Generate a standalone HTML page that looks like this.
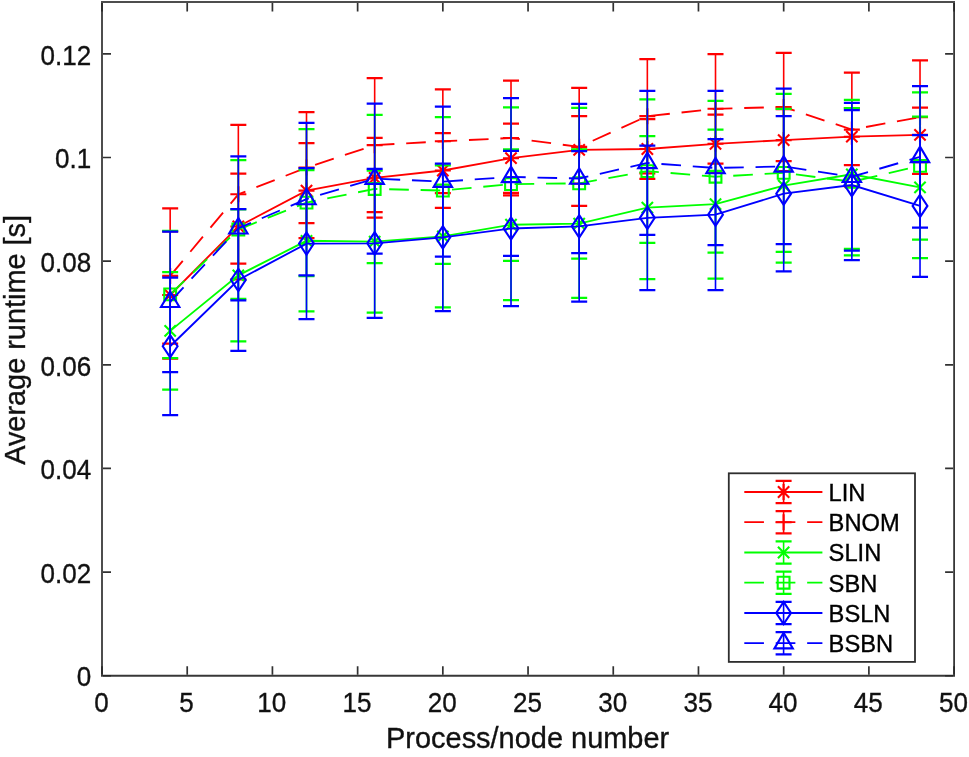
<!DOCTYPE html>
<html lang="en">
<head>
<meta charset="utf-8">
<title>Average runtime vs process/node number</title>
<style>
html,body{margin:0;padding:0;background:#fff;}
body{width:969px;height:757px;overflow:hidden;}
svg{display:block;}
text{font-family:"Liberation Sans",Arial,Helvetica,sans-serif;fill:#111;stroke:#111;stroke-width:0.35px;}
.tk{font-size:27.85px;}
.lb{font-size:28.95px;}
.lg{font-size:23.7px;fill:#000;stroke:#000;}
</style>
</head>
<body>
<svg width="969" height="757" viewBox="0 0 969 757">
<rect x="0" y="0" width="969" height="757" fill="#ffffff"/>
<g id="series">
<path d="M170.17 295L238.34 226.5L306.5 190.6L374.67 177.8L442.84 170.5L511.01 158.2L579.18 149.8L647.34 149L715.51 143.8L783.68 140.1L851.85 136.7L920.02 134.8" fill="none" stroke="#ff0000" stroke-width="1.85"/>
<path d="M170.17 231.3V358.7M238.34 173.6V279.4M306.5 143V238.2M374.67 137.9V217.7M442.84 133.1V207.9M511.01 123.5V192.9M579.18 116.05V183.55M647.34 119.2V178.8M715.51 114.65V172.95M783.68 109.1V171.1M851.85 108.2V165.2M920.02 107.6V162" fill="none" stroke="#ff0000" stroke-width="1.6"/>
<path d="M162.17 231.3H178.17M162.17 358.7H178.17M230.34 173.6H246.34M230.34 279.4H246.34M298.5 143H314.5M298.5 238.2H314.5M366.67 137.9H382.67M366.67 217.7H382.67M434.84 133.1H450.84M434.84 207.9H450.84M503.01 123.5H519.01M503.01 192.9H519.01M571.18 116.05H587.18M571.18 183.55H587.18M639.34 119.2H655.34M639.34 178.8H655.34M707.51 114.65H723.51M707.51 172.95H723.51M775.68 109.1H791.68M775.68 171.1H791.68M843.85 108.2H859.85M843.85 165.2H859.85M912.02 107.6H928.02M912.02 162H928.02" fill="none" stroke="#ff0000" stroke-width="2.25"/>
<path d="M162.17 295H178.17M170.17 287V303M164.52 289.35L175.82 300.65M164.52 300.65L175.82 289.35M230.34 226.5H246.34M238.34 218.5V234.5M232.69 220.85L243.99 232.15M232.69 232.15L243.99 220.85M298.5 190.6H314.5M306.5 182.6V198.6M300.85 184.95L312.15 196.25M300.85 196.25L312.15 184.95M366.67 177.8H382.67M374.67 169.8V185.8M369.02 172.15L380.32 183.45M369.02 183.45L380.32 172.15M434.84 170.5H450.84M442.84 162.5V178.5M437.19 164.85L448.49 176.15M437.19 176.15L448.49 164.85M503.01 158.2H519.01M511.01 150.2V166.2M505.36 152.55L516.66 163.85M505.36 163.85L516.66 152.55M571.18 149.8H587.18M579.18 141.8V157.8M573.53 144.15L584.83 155.45M573.53 155.45L584.83 144.15M639.34 149H655.34M647.34 141V157M641.69 143.35L652.99 154.65M641.69 154.65L652.99 143.35M707.51 143.8H723.51M715.51 135.8V151.8M709.86 138.15L721.16 149.45M709.86 149.45L721.16 138.15M775.68 140.1H791.68M783.68 132.1V148.1M778.03 134.45L789.33 145.75M778.03 145.75L789.33 134.45M843.85 136.7H859.85M851.85 128.7V144.7M846.2 131.05L857.5 142.35M846.2 142.35L857.5 131.05M912.02 134.8H928.02M920.02 126.8V142.8M914.37 129.15L925.67 140.45M914.37 140.45L925.67 129.15" fill="none" stroke="#ff0000" stroke-width="2.1" stroke-linejoin="miter" stroke-miterlimit="10"/>
<path d="M170.17 275.9L238.34 194.3L306.5 167.6L374.67 145.15L442.84 141.25L511.01 138L579.18 146.85L647.34 116.15L715.51 108.8L783.68 107L851.85 129.6L920.02 117.1" fill="none" stroke="#ff0000" stroke-width="1.85" stroke-dasharray="19.64 11.79"/>
<path d="M170.17 208.3V343.5M238.34 124.95V263.65M306.5 112V223.2M374.67 78.2V212.1M442.84 89.3V193.2M511.01 80.6V195.4M579.18 87.9V205.8M647.34 59V173.3M715.51 54V163.6M783.68 52.8V161.2M851.85 72.5V186.7M920.02 60.45V173.75" fill="none" stroke="#ff0000" stroke-width="1.6"/>
<path d="M162.17 208.3H178.17M162.17 343.5H178.17M230.34 124.95H246.34M230.34 263.65H246.34M298.5 112H314.5M298.5 223.2H314.5M366.67 78.2H382.67M366.67 212.1H382.67M434.84 89.3H450.84M434.84 193.2H450.84M503.01 80.6H519.01M503.01 195.4H519.01M571.18 87.9H587.18M571.18 205.8H587.18M639.34 59H655.34M639.34 173.3H655.34M707.51 54H723.51M707.51 163.6H723.51M775.68 52.8H791.68M775.68 161.2H791.68M843.85 72.5H859.85M843.85 186.7H859.85M912.02 60.45H928.02M912.02 173.75H928.02" fill="none" stroke="#ff0000" stroke-width="2.25"/>
<path d="M162.17 275.9H178.17M170.17 267.9V283.9M230.34 194.3H246.34M238.34 186.3V202.3M298.5 167.6H314.5M306.5 159.6V175.6M366.67 145.15H382.67M374.67 137.15V153.15M434.84 141.25H450.84M442.84 133.25V149.25M503.01 138H519.01M511.01 130V146M571.18 146.85H587.18M579.18 138.85V154.85M639.34 116.15H655.34M647.34 108.15V124.15M707.51 108.8H723.51M715.51 100.8V116.8M775.68 107H791.68M783.68 99V115M843.85 129.6H859.85M851.85 121.6V137.6M912.02 117.1H928.02M920.02 109.1V125.1" fill="none" stroke="#ff0000" stroke-width="2.1" stroke-linejoin="miter" stroke-miterlimit="10"/>
<path d="M170.17 330.85L238.34 275.3L306.5 240.8L374.67 241.65L442.84 236.3L511.01 224.75L579.18 223.6L647.34 207.65L715.51 204.1L783.68 185.7L851.85 174.3L920.02 187.4" fill="none" stroke="#00ff00" stroke-width="1.85"/>
<path d="M170.17 272.2V389.5M238.34 209.3V341.3M306.5 170.2V311.4M374.67 170.6V312.7M442.84 165.3V307.3M511.01 149.3V300.2M579.18 149.4V297.8M647.34 136.2V279.1M715.51 129.6V278.6M783.68 108.9V262.5M851.85 99.8V248.8M920.02 116.7V258.1" fill="none" stroke="#00ff00" stroke-width="1.6"/>
<path d="M162.17 272.2H178.17M162.17 389.5H178.17M230.34 209.3H246.34M230.34 341.3H246.34M298.5 170.2H314.5M298.5 311.4H314.5M366.67 170.6H382.67M366.67 312.7H382.67M434.84 165.3H450.84M434.84 307.3H450.84M503.01 149.3H519.01M503.01 300.2H519.01M571.18 149.4H587.18M571.18 297.8H587.18M639.34 136.2H655.34M639.34 279.1H655.34M707.51 129.6H723.51M707.51 278.6H723.51M775.68 108.9H791.68M775.68 262.5H791.68M843.85 99.8H859.85M843.85 248.8H859.85M912.02 116.7H928.02M912.02 258.1H928.02" fill="none" stroke="#00ff00" stroke-width="2.25"/>
<path d="M164.52 325.2L175.82 336.5M164.52 336.5L175.82 325.2M232.69 269.65L243.99 280.95M232.69 280.95L243.99 269.65M300.85 235.15L312.15 246.45M300.85 246.45L312.15 235.15M369.02 236L380.32 247.3M369.02 247.3L380.32 236M437.19 230.65L448.49 241.95M437.19 241.95L448.49 230.65M505.36 219.1L516.66 230.4M505.36 230.4L516.66 219.1M573.53 217.95L584.83 229.25M573.53 229.25L584.83 217.95M641.69 202L652.99 213.3M641.69 213.3L652.99 202M709.86 198.45L721.16 209.75M709.86 209.75L721.16 198.45M778.03 180.05L789.33 191.35M778.03 191.35L789.33 180.05M846.2 168.65L857.5 179.95M846.2 179.95L857.5 168.65M914.37 181.75L925.67 193.05M914.37 193.05L925.67 181.75" fill="none" stroke="#00ff00" stroke-width="2.1" stroke-linejoin="miter" stroke-miterlimit="10"/>
<path d="M170.17 294.4L238.34 229.5L306.5 202.6L374.67 188.95L442.84 190.55L511.01 184.1L579.18 183.3L647.34 171.1L715.51 176.75L783.68 172.85L851.85 181.7L920.02 165.9" fill="none" stroke="#00ff00" stroke-width="1.85" stroke-dasharray="19.64 11.79"/>
<path d="M170.17 230.8V358M238.34 160.05V298.95M306.5 129V276.2M374.67 114.9V263M442.84 117.2V263.9M511.01 107.4V260.8M579.18 107.9V258.7M647.34 99.3V242.9M715.51 100.9V252.6M783.68 93.9V251.8M851.85 108.15V255.25M920.02 92.3V239.5" fill="none" stroke="#00ff00" stroke-width="1.6"/>
<path d="M162.17 230.8H178.17M162.17 358H178.17M230.34 160.05H246.34M230.34 298.95H246.34M298.5 129H314.5M298.5 276.2H314.5M366.67 114.9H382.67M366.67 263H382.67M434.84 117.2H450.84M434.84 263.9H450.84M503.01 107.4H519.01M503.01 260.8H519.01M571.18 107.9H587.18M571.18 258.7H587.18M639.34 99.3H655.34M639.34 242.9H655.34M707.51 100.9H723.51M707.51 252.6H723.51M775.68 93.9H791.68M775.68 251.8H791.68M843.85 108.15H859.85M843.85 255.25H859.85M912.02 92.3H928.02M912.02 239.5H928.02" fill="none" stroke="#00ff00" stroke-width="2.25"/>
<path d="M164.27 288.5H176.07V300.3H164.27ZM232.44 223.6H244.24V235.4H232.44ZM300.6 196.7H312.4V208.5H300.6ZM368.77 183.05H380.57V194.85H368.77ZM436.94 184.65H448.74V196.45H436.94ZM505.11 178.2H516.91V190H505.11ZM573.28 177.4H585.08V189.2H573.28ZM641.44 165.2H653.24V177H641.44ZM709.61 170.85H721.41V182.65H709.61ZM777.78 166.95H789.58V178.75H777.78ZM845.95 175.8H857.75V187.6H845.95ZM914.12 160H925.92V171.8H914.12Z" fill="none" stroke="#00ff00" stroke-width="2.1" stroke-linejoin="miter" stroke-miterlimit="10"/>
<path d="M170.17 346.25L238.34 280L306.5 243.6L374.67 243.35L442.84 237.35L511.01 228.5L579.18 226.3L647.34 217.8L715.51 214.7L783.68 193.7L851.85 185.05L920.02 205.95" fill="none" stroke="#0000ff" stroke-width="1.85"/>
<path d="M170.17 277.5V415M238.34 209.2V350.8M306.5 168V319.2M374.67 168.85V317.85M442.84 163.55V311.15M511.01 150.9V306.1M579.18 151.1V301.5M647.34 145.5V290.1M715.51 139.2V290.2M783.68 116.1V271.3M851.85 110.1V260M920.02 135V276.9" fill="none" stroke="#0000ff" stroke-width="1.6"/>
<path d="M162.17 277.5H178.17M162.17 415H178.17M230.34 209.2H246.34M230.34 350.8H246.34M298.5 168H314.5M298.5 319.2H314.5M366.67 168.85H382.67M366.67 317.85H382.67M434.84 163.55H450.84M434.84 311.15H450.84M503.01 150.9H519.01M503.01 306.1H519.01M571.18 151.1H587.18M571.18 301.5H587.18M639.34 145.5H655.34M639.34 290.1H655.34M707.51 139.2H723.51M707.51 290.2H723.51M775.68 116.1H791.68M775.68 271.3H791.68M843.85 110.1H859.85M843.85 260H859.85M912.02 135H928.02M912.02 276.9H928.02" fill="none" stroke="#0000ff" stroke-width="2.25"/>
<path d="M170.17 335.05L177.57 346.25L170.17 357.45L162.77 346.25ZM238.34 268.8L245.74 280L238.34 291.2L230.94 280ZM306.5 232.4L313.9 243.6L306.5 254.8L299.1 243.6ZM374.67 232.15L382.07 243.35L374.67 254.55L367.27 243.35ZM442.84 226.15L450.24 237.35L442.84 248.55L435.44 237.35ZM511.01 217.3L518.41 228.5L511.01 239.7L503.61 228.5ZM579.18 215.1L586.58 226.3L579.18 237.5L571.78 226.3ZM647.34 206.6L654.74 217.8L647.34 229L639.94 217.8ZM715.51 203.5L722.91 214.7L715.51 225.9L708.11 214.7ZM783.68 182.5L791.08 193.7L783.68 204.9L776.28 193.7ZM851.85 173.85L859.25 185.05L851.85 196.25L844.45 185.05ZM920.02 194.75L927.42 205.95L920.02 217.15L912.62 205.95Z" fill="none" stroke="#0000ff" stroke-width="2.1" stroke-linejoin="miter" stroke-miterlimit="10"/>
<path d="M170.17 301.75L238.34 228.3L306.5 199.05L374.67 178.65L442.84 181.65L511.01 176.95L579.18 178.5L647.34 162.95L715.51 168L783.68 166.4L851.85 176.75L920.02 156.9" fill="none" stroke="#0000ff" stroke-width="1.85" stroke-dasharray="19.64 11.79"/>
<path d="M170.17 231.5V372M238.34 156.3V300.3M306.5 122.8V275.3M374.67 103.7V253.6M442.84 106.7V256.6M511.01 98.1V255.8M579.18 103.9V253.1M647.34 90.95V234.95M715.51 90.8V245.2M783.68 88.6V244.2M851.85 102.85V250.65M920.02 86.1V227.7" fill="none" stroke="#0000ff" stroke-width="1.6"/>
<path d="M162.17 231.5H178.17M162.17 372H178.17M230.34 156.3H246.34M230.34 300.3H246.34M298.5 122.8H314.5M298.5 275.3H314.5M366.67 103.7H382.67M366.67 253.6H382.67M434.84 106.7H450.84M434.84 256.6H450.84M503.01 98.1H519.01M503.01 255.8H519.01M571.18 103.9H587.18M571.18 253.1H587.18M639.34 90.95H655.34M639.34 234.95H655.34M707.51 90.8H723.51M707.51 245.2H723.51M775.68 88.6H791.68M775.68 244.2H791.68M843.85 102.85H859.85M843.85 250.65H859.85M912.02 86.1H928.02M912.02 227.7H928.02" fill="none" stroke="#0000ff" stroke-width="2.25"/>
<path d="M170.17 291.45L179.37 306.95L160.97 306.95ZM238.34 218L247.54 233.5L229.14 233.5ZM306.5 188.75L315.7 204.25L297.3 204.25ZM374.67 168.35L383.87 183.85L365.47 183.85ZM442.84 171.35L452.04 186.85L433.64 186.85ZM511.01 166.65L520.21 182.15L501.81 182.15ZM579.18 168.2L588.38 183.7L569.98 183.7ZM647.34 152.65L656.54 168.15L638.14 168.15ZM715.51 157.7L724.71 173.2L706.31 173.2ZM783.68 156.1L792.88 171.6L774.48 171.6ZM851.85 166.45L861.05 181.95L842.65 181.95ZM920.02 146.6L929.22 162.1L910.82 162.1Z" fill="none" stroke="#0000ff" stroke-width="2.1" stroke-linejoin="miter" stroke-miterlimit="10"/>
</g>
<g id="axes">
<path d="M101 675.75H955" fill="none" stroke="#262626" stroke-width="1.8" stroke-opacity="0.92"/>
<path d="M101 2H955" fill="none" stroke="#262626" stroke-width="2.0" stroke-opacity="0.82"/>
<path d="M102 3V674.75" fill="none" stroke="#262626" stroke-width="2.0" stroke-opacity="0.82"/>
<path d="M954.1 3V674.75" fill="none" stroke="#262626" stroke-width="1.8" stroke-opacity="0.92"/>
<path d="M102 674.75V666.15M102 3V11.6M187.21 674.75V666.15M187.21 3V11.6M272.42 674.75V666.15M272.42 3V11.6M357.63 674.75V666.15M357.63 3V11.6M442.84 674.75V666.15M442.84 3V11.6M528.05 674.75V666.15M528.05 3V11.6M613.26 674.75V666.15M613.26 3V11.6M698.47 674.75V666.15M698.47 3V11.6M783.68 674.75V666.15M783.68 3V11.6M868.89 674.75V666.15M868.89 3V11.6M954.1 674.75V666.15M954.1 3V11.6M103 675.75H111M953.1 675.75H945.1M103 572.1H111M953.1 572.1H945.1M103 468.45H111M953.1 468.45H945.1M103 364.8H111M953.1 364.8H945.1M103 261.15H111M953.1 261.15H945.1M103 157.5H111M953.1 157.5H945.1M103 53.85H111M953.1 53.85H945.1" fill="none" stroke="#262626" stroke-width="1.7" stroke-opacity="0.95"/>
</g>
<g id="xticklabels">
<text class="tk" text-anchor="middle" transform="translate(101.4 712.4) scale(0.935 1)">0</text>
<text class="tk" text-anchor="middle" transform="translate(186.61 712.4) scale(0.935 1)">5</text>
<text class="tk" text-anchor="middle" transform="translate(271.82 712.4) scale(0.935 1)">10</text>
<text class="tk" text-anchor="middle" transform="translate(357.03 712.4) scale(0.935 1)">15</text>
<text class="tk" text-anchor="middle" transform="translate(442.24 712.4) scale(0.935 1)">20</text>
<text class="tk" text-anchor="middle" transform="translate(527.45 712.4) scale(0.935 1)">25</text>
<text class="tk" text-anchor="middle" transform="translate(612.66 712.4) scale(0.935 1)">30</text>
<text class="tk" text-anchor="middle" transform="translate(697.87 712.4) scale(0.935 1)">35</text>
<text class="tk" text-anchor="middle" transform="translate(783.08 712.4) scale(0.935 1)">40</text>
<text class="tk" text-anchor="middle" transform="translate(868.29 712.4) scale(0.935 1)">45</text>
<text class="tk" text-anchor="middle" transform="translate(953.5 712.4) scale(0.935 1)">50</text>
</g>
<g id="yticklabels">
<text class="tk" text-anchor="end" transform="translate(91.3 686.45) scale(0.935 1)">0</text>
<text class="tk" text-anchor="end" transform="translate(91.3 582.8) scale(0.935 1)">0.02</text>
<text class="tk" text-anchor="end" transform="translate(91.3 479.15) scale(0.935 1)">0.04</text>
<text class="tk" text-anchor="end" transform="translate(91.3 375.5) scale(0.935 1)">0.06</text>
<text class="tk" text-anchor="end" transform="translate(91.3 271.85) scale(0.935 1)">0.08</text>
<text class="tk" text-anchor="end" transform="translate(91.3 168.2) scale(0.935 1)">0.1</text>
<text class="tk" text-anchor="end" transform="translate(91.3 64.55) scale(0.935 1)">0.12</text>
</g>
<text class="lb" text-anchor="middle" transform="translate(527.6 747.8)">Process/node number</text>
<text class="lb" text-anchor="middle" transform="translate(24.9 339.9) rotate(-90) scale(0.998 1)">Average runtime [s]</text>
<rect x="728.8" y="473.3" width="186.2" height="188.6" fill="#ffffff" stroke="#2e2e2e" stroke-width="1.8"/>
<g id="legend">
<path d="M744.3 492H822.4" fill="none" stroke="#ff0000" stroke-width="1.8"/>
<path d="M783.6 480.8V503.2" fill="none" stroke="#ff0000" stroke-width="1.6"/>
<path d="M775.6 480.8H791.6M775.6 503.2H791.6" fill="none" stroke="#ff0000" stroke-width="2.25"/>
<path d="M775.6 492H791.6M783.6 484V500M777.95 486.35L789.25 497.65M777.95 497.65L789.25 486.35" fill="none" stroke="#ff0000" stroke-width="2.1" stroke-miterlimit="10"/>
<text class="lg" x="828.6" y="500.9">LIN</text>
<path d="M744.3 522.2H822.4" fill="none" stroke="#ff0000" stroke-width="1.8" stroke-dasharray="19.64 11.79"/>
<path d="M783.6 511V533.4" fill="none" stroke="#ff0000" stroke-width="1.6"/>
<path d="M775.6 511H791.6M775.6 533.4H791.6" fill="none" stroke="#ff0000" stroke-width="2.25"/>
<path d="M775.6 522.2H791.6M783.6 514.2V530.2" fill="none" stroke="#ff0000" stroke-width="2.1" stroke-miterlimit="10"/>
<text class="lg" x="828.6" y="531.1">BNOM</text>
<path d="M744.3 552.5H822.4" fill="none" stroke="#00ff00" stroke-width="1.8"/>
<path d="M783.6 541.3V563.7" fill="none" stroke="#00ff00" stroke-width="1.6"/>
<path d="M775.6 541.3H791.6M775.6 563.7H791.6" fill="none" stroke="#00ff00" stroke-width="2.25"/>
<path d="M777.95 546.85L789.25 558.15M777.95 558.15L789.25 546.85" fill="none" stroke="#00ff00" stroke-width="2.1" stroke-miterlimit="10"/>
<text class="lg" x="828.6" y="561.4">SLIN</text>
<path d="M744.3 582.7H822.4" fill="none" stroke="#00ff00" stroke-width="1.8" stroke-dasharray="19.64 11.79"/>
<path d="M783.6 571.5V593.9" fill="none" stroke="#00ff00" stroke-width="1.6"/>
<path d="M775.6 571.5H791.6M775.6 593.9H791.6" fill="none" stroke="#00ff00" stroke-width="2.25"/>
<path d="M777.7 576.8H789.5V588.6H777.7Z" fill="none" stroke="#00ff00" stroke-width="2.1" stroke-miterlimit="10"/>
<text class="lg" x="828.6" y="591.6">SBN</text>
<path d="M744.3 613H822.4" fill="none" stroke="#0000ff" stroke-width="1.8"/>
<path d="M783.6 601.8V624.2" fill="none" stroke="#0000ff" stroke-width="1.6"/>
<path d="M775.6 601.8H791.6M775.6 624.2H791.6" fill="none" stroke="#0000ff" stroke-width="2.25"/>
<path d="M783.6 601.8L791 613L783.6 624.2L776.2 613Z" fill="none" stroke="#0000ff" stroke-width="2.1" stroke-miterlimit="10"/>
<text class="lg" x="828.6" y="621.9">BSLN</text>
<path d="M744.3 643.2H822.4" fill="none" stroke="#0000ff" stroke-width="1.8" stroke-dasharray="19.64 11.79"/>
<path d="M783.6 632V654.4" fill="none" stroke="#0000ff" stroke-width="1.6"/>
<path d="M775.6 632H791.6M775.6 654.4H791.6" fill="none" stroke="#0000ff" stroke-width="2.25"/>
<path d="M783.6 632.9L792.8 648.4L774.4 648.4Z" fill="none" stroke="#0000ff" stroke-width="2.1" stroke-miterlimit="10"/>
<text class="lg" x="828.6" y="652.1">BSBN</text>
</g>
</svg>
</body>
</html>
